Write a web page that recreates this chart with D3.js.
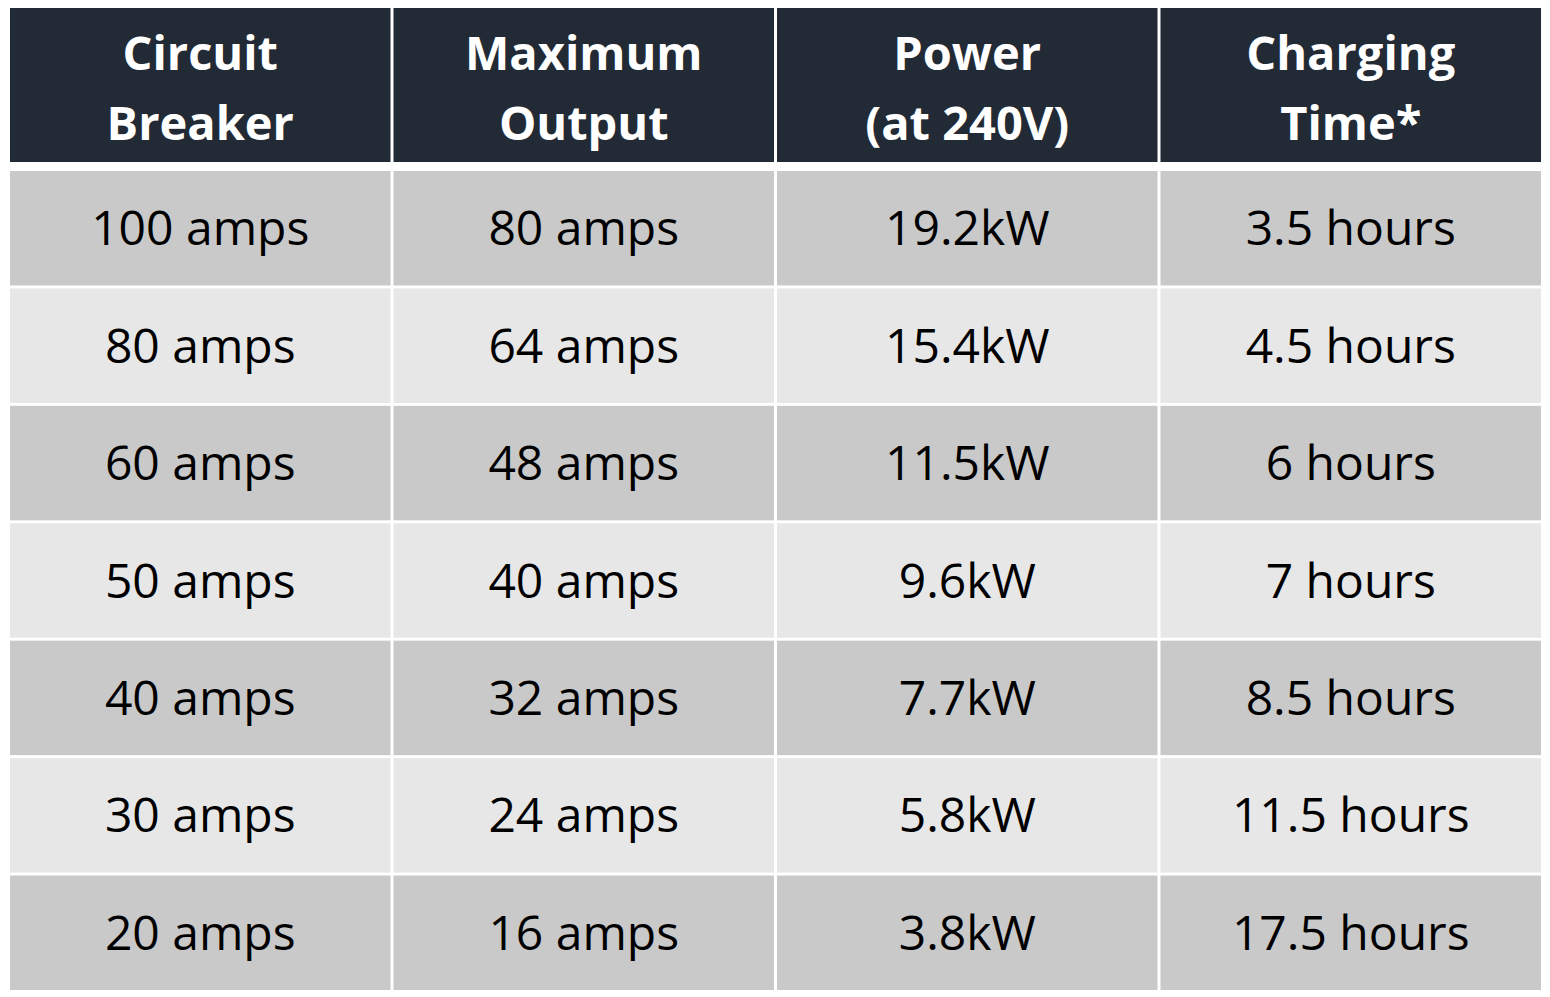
<!DOCTYPE html><html><head><meta charset="utf-8">
<script src="https://cdn.jsdelivr.net/npm/d3@7"></script>
<style>body{margin:0;background:#fff}</style></head><body>
<script>
const headers=[["Circuit","Breaker"],["Maximum","Output"],["Power","(at 240V)"],["Charging","Time*"]];
const breaker=["100 amps","80 amps","60 amps","50 amps","40 amps","30 amps","20 amps"];
const output=["80 amps","64 amps","48 amps","40 amps","32 amps","24 amps","16 amps"];
const power=["19.2kW","15.4kW","11.5kW","9.6kW","7.7kW","5.8kW","3.8kW"];
const timeH=["3.5 hours","4.5 hours","6 hours","7 hours","8.5 hours","11.5 hours","17.5 hours"];
const cols=[breaker,output,power,timeH];
const svg=d3.select("body").append("svg").attr("width",1550).attr("height",997);
const font="'Open Sans',sans-serif";
const x=d3.scaleBand().domain(d3.range(4)).range([10,1541]).paddingInner(0.0078);
const y=d3.scaleBand().domain(d3.range(7)).range([171,990]).paddingInner(0.025);
headers.forEach((h,i)=>{
 svg.append("rect").attr("x",x(i)).attr("y",8).attr("width",x.bandwidth()).attr("height",154).attr("fill","#222a35");
 h.forEach((t,j)=>svg.append("text").attr("x",x(i)+x.bandwidth()/2).attr("y",70+j*70).attr("text-anchor","middle")
  .attr("font-family",font).attr("font-weight",700).attr("font-size",47).attr("fill","#fff").text(t));
});
cols.forEach((c,i)=>c.forEach((v,r)=>{
 svg.append("rect").attr("x",x(i)).attr("y",y(r)).attr("width",x.bandwidth()).attr("height",y.bandwidth())
  .attr("fill",r%2?"#e7e7e7":"#c9c9c9");
 svg.append("text").attr("x",x(i)+x.bandwidth()/2).attr("y",y(r)+y.bandwidth()/2+17).attr("text-anchor","middle")
  .attr("font-family",font).attr("font-size",48).attr("fill","#000").text(v);
}));
</script></body></html>
